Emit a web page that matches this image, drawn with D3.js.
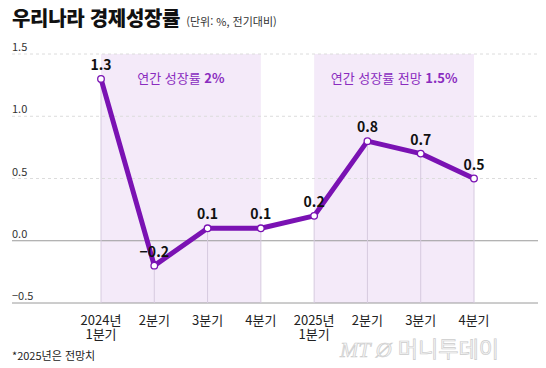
<!DOCTYPE html>
<html lang="ko">
<head>
    <meta charset="UTF-8">
    <title>우리나라 경제성장률</title>
    <script src="https://cdn.jsdelivr.net/npm/d3@7"></script>
    <style>
        body { margin: 0; background: #fff; }
        svg { display: block; font-family: "Noto Sans CJK KR", "Noto Sans", sans-serif; }
    </style>
</head>
<body>
<script>
    // quarters (2025 = forecast)
    var quarters = ["2024Q1", "2024Q2", "2024Q3", "2024Q4", "2025Q1", "2025Q2", "2025Q3", "2025Q4"];
    var quarterLabels = [["2024년", "1분기"], ["2분기"], ["3분기"], ["4분기"], ["2025년", "1분기"], ["2분기"], ["3분기"], ["4분기"]];
    var growth = [1.3, -0.2, 0.1, 0.1, 0.2, 0.8, 0.7, 0.5];
    var yTicks = [-0.5, 0, 0.5, 1.0, 1.5];
    var yearSpans = [
        { from: "2024Q1", to: "2024Q4", text: "연간 성장률 ", bold: "2%" },
        { from: "2025Q1", to: "2025Q4", text: "연간 성장률 전망 ", bold: "1.5%" }
    ];

    var w = 546, h = 368;
    var left = 12, right = 538;
    var purple = "#7a12b3";

    var svg = d3.select("body").append("svg")
        .attr("width", w)
        .attr("height", h);

    var x = d3.scalePoint().domain(quarters).range([101, 474]);
    var y = d3.scaleLinear().domain([-0.5, 1.5]).range([303, 54]);

    // title
    var title = svg.append("text")
        .attr("x", left)
        .attr("y", 26)
        .attr("fill", "#111");
    title.append("tspan")
        .attr("font-size", "20px")
        .attr("font-weight", "900")
        .attr("letter-spacing", "-0.3")
        .text("우리나라 경제성장률");
    title.append("tspan")
        .attr("font-size", "11px")
        .attr("dx", 6)
        .attr("fill", "#333")
        .text("(단위: %, 전기대비)");

    // shaded year bands
    svg.selectAll("rect.band")
        .data(yearSpans)
        .enter()
        .append("rect")
        .attr("class", "band")
        .attr("x", function (d) { return x(d.from); })
        .attr("y", y(1.5))
        .attr("width", function (d) { return x(d.to) - x(d.from); })
        .attr("height", y(-0.5) - y(1.5))
        .attr("fill", "#f4eaf9");

    // gridlines
    svg.selectAll("line.grid")
        .data(yTicks)
        .enter()
        .append("line")
        .attr("class", "grid")
        .attr("x1", left)
        .attr("x2", right)
        .attr("y1", function (d) { return y(d); })
        .attr("y2", function (d) { return y(d); })
        .attr("stroke", function (d) { return d > 0 ? "#dcdcdc" : "#9a9a9a"; })
        .attr("stroke-width", 1)
        .attr("stroke-dasharray", function (d) { return d > 0 ? "3,3" : null; });

    svg.selectAll("text.ytick")
        .data(yTicks)
        .enter()
        .append("text")
        .attr("class", "ytick")
        .attr("x", left)
        .attr("y", function (d) { return y(d) - 3; })
        .attr("font-size", "11px")
        .attr("fill", "#333")
        .text(function (d) { return (d < 0 ? "\u2212" : "") + Math.abs(d).toFixed(1); });

    // vertical drop lines
    svg.selectAll("line.drop")
        .data(growth)
        .enter()
        .append("line")
        .attr("class", "drop")
        .attr("x1", function (d, i) { return x(quarters[i]); })
        .attr("x2", function (d, i) { return x(quarters[i]); })
        .attr("y1", function (d) { return y(d); })
        .attr("y2", y(-0.5))
        .attr("stroke", "#d6cadf")
        .attr("stroke-width", 1);

    // year annotations
    var notes = svg.selectAll("text.note")
        .data(yearSpans)
        .enter()
        .append("text")
        .attr("class", "note")
        .attr("x", function (d) { return (x(d.from) + x(d.to)) / 2; })
        .attr("y", 83)
        .attr("text-anchor", "middle")
        .attr("font-size", "13px")
        .attr("fill", "#8a2cbf");
    notes.append("tspan").text(function (d) { return d.text; });
    notes.append("tspan").attr("font-weight", "bold").text(function (d) { return d.bold; });

    // line
    var line = d3.line()
        .x(function (d, i) { return x(quarters[i]); })
        .y(function (d) { return y(d); });

    svg.append("path")
        .datum(growth)
        .attr("d", line)
        .attr("fill", "none")
        .attr("stroke", purple)
        .attr("stroke-width", 5)
        .attr("stroke-linejoin", "round");

    svg.selectAll("circle")
        .data(growth)
        .enter()
        .append("circle")
        .attr("cx", function (d, i) { return x(quarters[i]); })
        .attr("cy", function (d) { return y(d); })
        .attr("r", 3.3)
        .attr("fill", "#fff")
        .attr("stroke", purple)
        .attr("stroke-width", 1.3);

    svg.selectAll("text.value")
        .data(growth)
        .enter()
        .append("text")
        .attr("class", "value")
        .attr("x", function (d, i) { return x(quarters[i]); })
        .attr("y", function (d) { return y(d) - 9; })
        .attr("text-anchor", "middle")
        .attr("font-size", "14px")
        .attr("font-weight", "bold")
        .attr("fill", "#111")
        .text(function (d) { return (d < 0 ? "\u2212" : "") + Math.abs(d).toFixed(1); });

    // x labels
    var xl = svg.selectAll("text.xlabel")
        .data(quarterLabels)
        .enter()
        .append("text")
        .attr("class", "xlabel")
        .attr("text-anchor", "middle")
        .attr("font-size", "13px")
        .attr("fill", "#222");
    xl.selectAll("tspan")
        .data(function (d, i) { return d.map(function (s) { return { s: s, q: quarters[i] }; }); })
        .enter()
        .append("tspan")
        .attr("x", function (d) { return x(d.q); })
        .attr("y", function (d, j) { return 325 + j * 14; })
        .text(function (d) { return d.s; });

    // footnote
    svg.append("text")
        .attr("x", left)
        .attr("y", 360)
        .attr("font-size", "11px")
        .attr("fill", "#222")
        .text("*2025년은 전망치");

    // watermark
    svg.append("text")
        .attr("x", 340)
        .attr("y", 357)
        .attr("font-size", "22px")
        .attr("fill", "#f6f6f6")
        .attr("stroke", "#cccccc")
        .attr("stroke-width", 0.7)
        .html('<tspan font-style="italic" font-family="Liberation Serif">MT Ø</tspan> 머니투데이');
</script>
</body>
</html>
